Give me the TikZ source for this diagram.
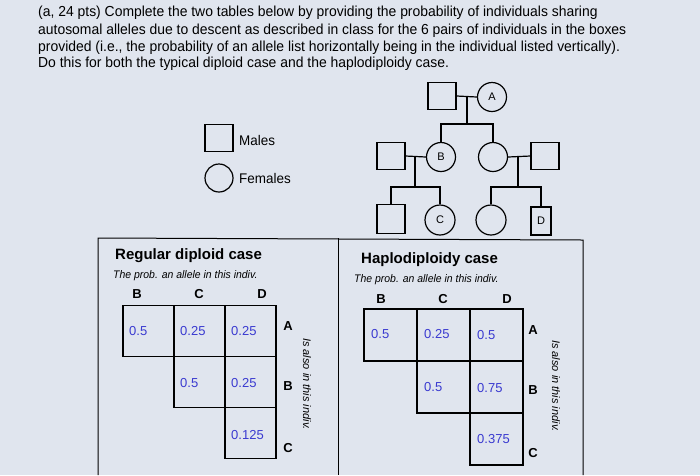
\documentclass[tikz,border=0pt]{standalone}
\usepackage{fontspec}
\setmainfont{Liberation Sans}
\begin{document}
\begin{tikzpicture}[x=1pt,y=-1pt,
  txt/.style={anchor=west,inner sep=0,font=\fontsize{14.5}{15}\selectfont,xscale=0.96},
  male/.style={draw,line width=1.2pt,minimum width=28pt,minimum height=27pt,inner sep=0,font=\fontsize{11}{11}\selectfont},
  fem/.style={draw,circle,line width=1.2pt,minimum size=29pt,inner sep=0,font=\fontsize{11}{11}\selectfont},
  ln/.style={line width=1.2pt},
  cell/.style={draw,line width=1.2pt,minimum width=51pt,minimum height=51pt,inner sep=0},
  rcell/.style={draw,line width=1.2pt,minimum width=53pt,minimum height=52pt,inner sep=0},
  val/.style={text=valblue,font=\fontsize{13}{13}\selectfont,anchor=west,inner sep=0},
  hd/.style={anchor=west,inner sep=0,font=\bfseries\fontsize{15}{16}\selectfont},
  sub/.style={anchor=west,inner sep=0,font=\itshape\fontsize{11}{11}\selectfont,xscale=0.95},
  vt/.style={inner sep=0,font=\itshape\fontsize{11}{11}\selectfont,rotate=-90},
  lt/.style={inner sep=0,font=\bfseries\fontsize{13}{13}\selectfont}]
\definecolor{valblue}{HTML}{3A3AD0}
\definecolor{bg}{HTML}{E0E5EE}
\fill[bg] (0,0) rectangle (700,475);
\useasboundingbox (0,0) rectangle (700,475);
% text
\node[txt] (t1) at (38,13) {(a, 24 pts) Complete the two tables below by providing the probability of individuals sharing};
\node[txt] (t2) at (38,31) {autosomal alleles due to descent as described in class for the 6 pairs of individuals in the boxes};
\node[txt] (t3) at (38,48) {provided (i.e., the probability of an allele list horizontally being in the individual listed vertically).};
\node[txt] (t4) at (38,64) {Do this for both the typical diploid case and the haplodiploidy case.};
% legend
\node[male] (lm) at (219,138) {};
\node[txt,font=\fontsize{14}{14}\selectfont] (lmt) at (239,140) {Males};
\node[fem,minimum size=28pt] (lf) at (219,178) {};
\node[txt,font=\fontsize{14}{14}\selectfont] (lft) at (239,178) {Females};
% pedigree
\node[male] (g1) at (442,96) {};
\node[fem] (A) at (492,97) {A};
\node[male] (p1) at (391,156) {};
\node[fem] (B) at (441,157) {B};
\node[fem] (s1) at (493,157) {};
\node[male] (p2) at (545,156) {};
\node[male,minimum height=29pt] (c1) at (391,219) {};
\node[fem,minimum size=30pt] (C) at (440,220) {C};
\node[fem,minimum size=30pt] (s2) at (491,220) {};
\node[male,minimum width=20pt,minimum height=28pt] (D) at (541,221) {D};
\coordinate (m1) at (467,97);
\coordinate (m2) at (415,157);
\coordinate (m3) at (518,157);
\draw[ln] (g1.east) -- (A.west);
\draw[ln] (m1) -- (467,124);
\draw[ln] (B.north) -- (441,124) -- (493,124) -- (s1.north);
\draw[ln] (p1.east) -- (B.west);
\draw[ln] (s1.east) -- (p2.west);
\draw[ln] (m2) -- (415,187);
\draw[ln] (c1.north) -- (391,187) -- (440,187) -- (C.north);
\draw[ln] (m3) -- (518,187);
\draw[ln] (s2.north) -- (491,187) -- (541,187) -- (D.north);
% frame
\draw[line width=1pt] (98,475) -- (98,238) -- (583,240) -- (583,475);
\draw[line width=1pt] (338,238) -- (338,475);
% left table
\node[hd] (h1) at (115,256) {Regular diploid case};
\node[sub] (s1t) at (113,276) {The prob. an allele in this indiv.};
\node[lt] at (137,294) {B};
\node[lt] at (199,294) {C};
\node[lt] at (262,294) {D};
\node[cell] (a1) at (148.5,331) {}; \node[val] at (129,331) {0.5};
\node[cell] (a2) at (199.5,331) {}; \node[val] at (180,331) {0.25};
\node[cell] (a3) at (250.5,331) {}; \node[val] at (231,331) {0.25};
\node[cell] (b2) at (199.5,382) {}; \node[val] at (180,383) {0.5};
\node[cell] (b3) at (250.5,382) {}; \node[val] at (231,383) {0.25};
\node[cell] (c3) at (250.5,433) {}; \node[val] at (231,435) {0.125};
\node[lt] at (288,326) {A};
\node[lt] at (288,386) {B};
\node[lt] at (288,448) {C};
\node[vt] at (307,384) {Is also in this indiv.};
% right table
\node[hd] (h2) at (361,260) {Haplodiploidy case};
\node[sub] (s2t) at (354,280) {The prob. an allele in this indiv.};
\node[lt] at (381,299) {B};
\node[lt] at (443,299) {C};
\node[lt] at (507,299) {D};
\node[rcell] (ra1) at (390.5,335) {}; \node[val] at (371,334) {0.5};
\node[rcell] (ra2) at (443.5,335) {}; \node[val] at (424,334) {0.25};
\node[rcell] (ra3) at (496.5,335) {}; \node[val] at (477,335) {0.5};
\node[rcell] (rb2) at (443.5,387) {}; \node[val] at (424,387) {0.5};
\node[rcell] (rb3) at (496.5,387) {}; \node[val] at (477,388) {0.75};
\node[rcell] (rc3) at (496.5,439) {}; \node[val] at (477,439) {0.375};
\node[lt] at (533,330) {A};
\node[lt] at (533,390) {B};
\node[lt] at (533,453) {C};
\node[vt] at (556,386) {Is also in this indiv.};
\end{tikzpicture}
\end{document}
